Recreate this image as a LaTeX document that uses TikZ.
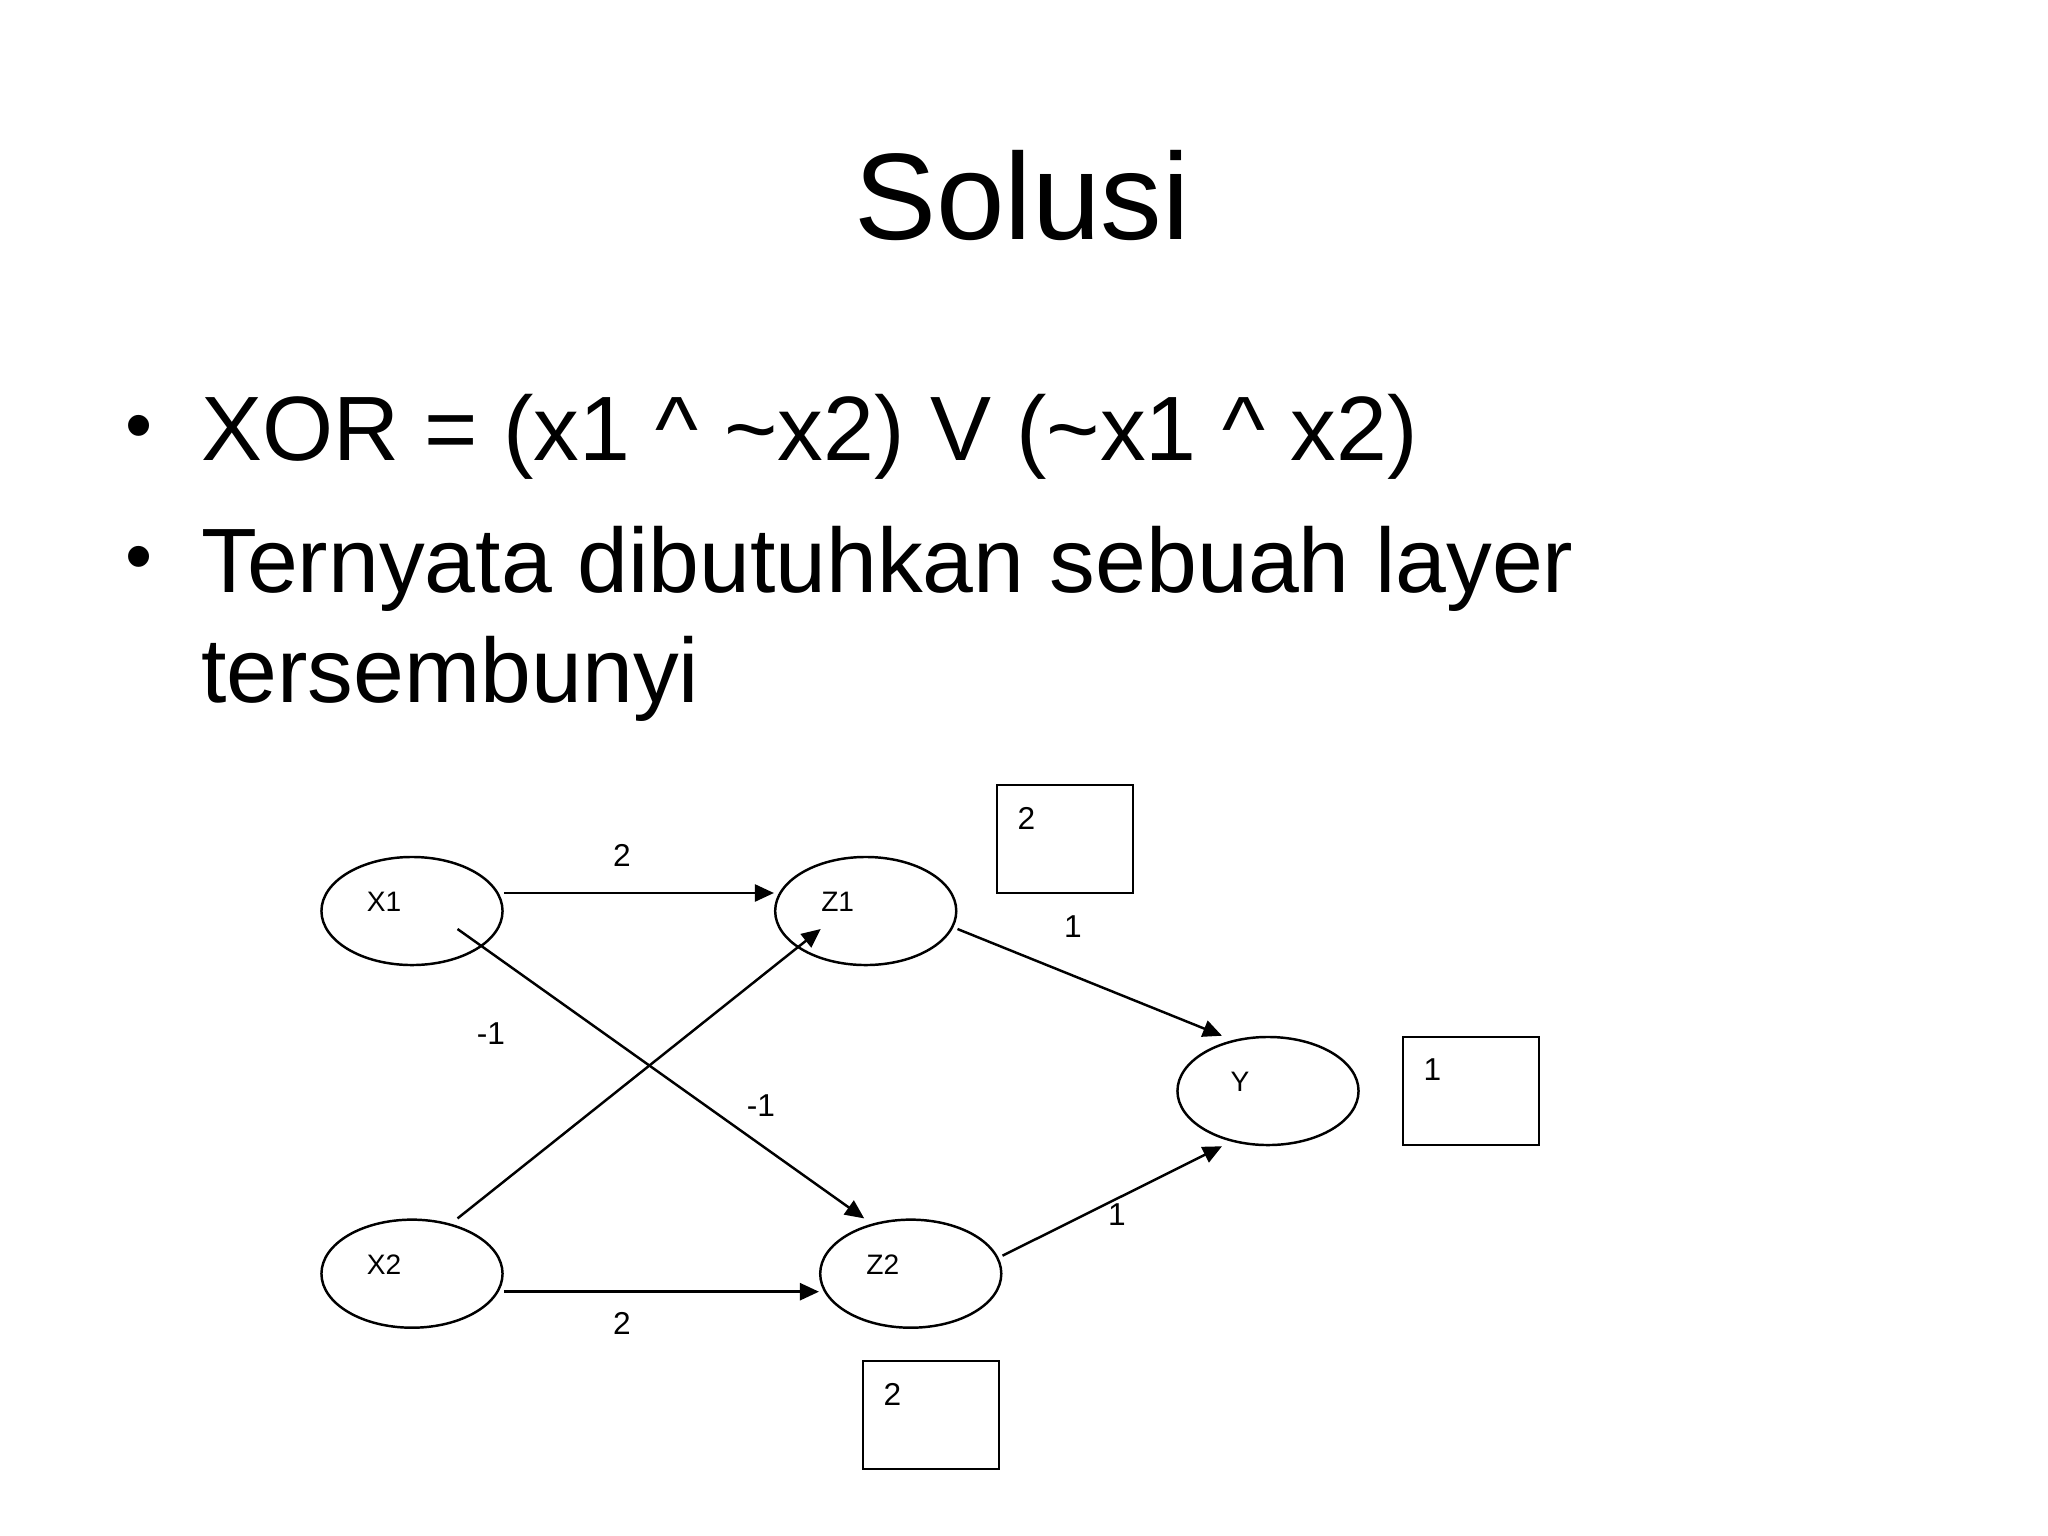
\documentclass[tikz,border=0pt]{standalone}
\usepackage{fontspec}
\setmainfont{Liberation Sans}
\usetikzlibrary{arrows.meta, positioning, shapes.geometric}

\begin{document}
\begin{tikzpicture}[
    x=0.01cm, y=-0.01cm,
    >={Triangle[length=1.9mm, width=1.7mm]},
    line width=0.7pt,
    neuron/.style={
        draw, ellipse, minimum width=1.81cm, minimum height=1.08cm,
        inner sep=0pt,
    },
    nlabel/.style={
        anchor=west, xshift=-0.28cm, yshift=0.09cm,
        font=\fontsize{8}{9.6}\selectfont, inner sep=0pt,
    },
    biasbox/.style={
        draw, rectangle, minimum width=1.36cm, minimum height=1.08cm,
        inner sep=0pt,
    },
    blabel/.style={
        xshift=-0.385cm, yshift=0.21cm,
        font=\fontsize{9}{10.8}\selectfont, inner sep=0pt,
    },
    wlabel/.style={font=\fontsize{9}{10.8}\selectfont, inner sep=0pt},
    bullettext/.style={anchor=base west, font=\fontsize{26}{31}\selectfont,
        inner sep=0pt, align=left},
    bulletdot/.style={anchor=base, font=\fontsize{22}{26}\selectfont, inner sep=0pt},
    arr/.style={->},
]
\useasboundingbox (0,0) rectangle (2048,1536);

% Slide title and bullets
\node[anchor=base, font=\fontsize{35}{42}\selectfont] (title) at (1022,239) {Solusi};
\node[bulletdot] (dot1) at (139,451) {•};
\node[bullettext] (xor) at (200,460) {XOR = (x1 \^{} \textasciitilde x2) V (\textasciitilde x1 \^{} x2)};
\node[bulletdot] (dot2) at (139,582) {•};
% base of a two-line node = baseline of its last line
\node[bullettext] (hidden) at (200,702) {Ternyata dibutuhkan sebuah layer\\tersembunyi};

% Input layer
\node[neuron, label={[nlabel]center:X1}] (X1) at (412,911) {};
\node[neuron, below=2.52cm of X1, label={[nlabel]center:X2}] (X2) {};

% Hidden layer
\node[neuron, right=2.7cm of X1, label={[nlabel]center:Z1}] (Z1) {};
\node[neuron, right=3.15cm of X2, label={[nlabel]center:Z2}] (Z2) {};

% Output
\node[neuron, label={[nlabel]center:Y}] (Y) at (1268,1091) {};

% Thresholds
\node[biasbox, label={[blabel]center:2}] (thZ1) at (1065,839) {};
\node[biasbox, label={[blabel]center:2}] (thZ2) at (931,1415) {};
\node[biasbox, label={[blabel]center:1}] (thY) at (1471,1091) {};

% Weights
\draw[arr] ([yshift=0.18cm]X1.east) -- ([yshift=0.18cm]Z1.west);
\draw[arr] ([yshift=-0.18cm]X2.east) -- ([yshift=-0.18cm]Z2.west);
\draw[arr] ([shift={(0.455cm,-0.18cm)}]X1.center) -- ([xshift=-0.465cm]Z2.north);
\draw[arr] ([xshift=0.455cm]X2.north) -- ([shift={(-0.45cm,-0.18cm)}]Z1.center);
\draw[arr] ([yshift=-0.18cm]Z1.east) -- ([xshift=-0.46cm]Y.north);
\draw[arr] ([yshift=0.18cm]Z2.east) -- ([xshift=-0.46cm]Y.south);

\node[wlabel] (w11) at (622,855) {2};
\node[wlabel] (w22) at (622,1323) {2};
\node[wlabel] (w21) at (491,1034) {-1};
\node[wlabel] (w12) at (761,1106) {-1};
\node[wlabel] (v1) at (1073,927) {1};
\node[wlabel] (v2) at (1117,1215) {1};

\end{tikzpicture}
\end{document}
